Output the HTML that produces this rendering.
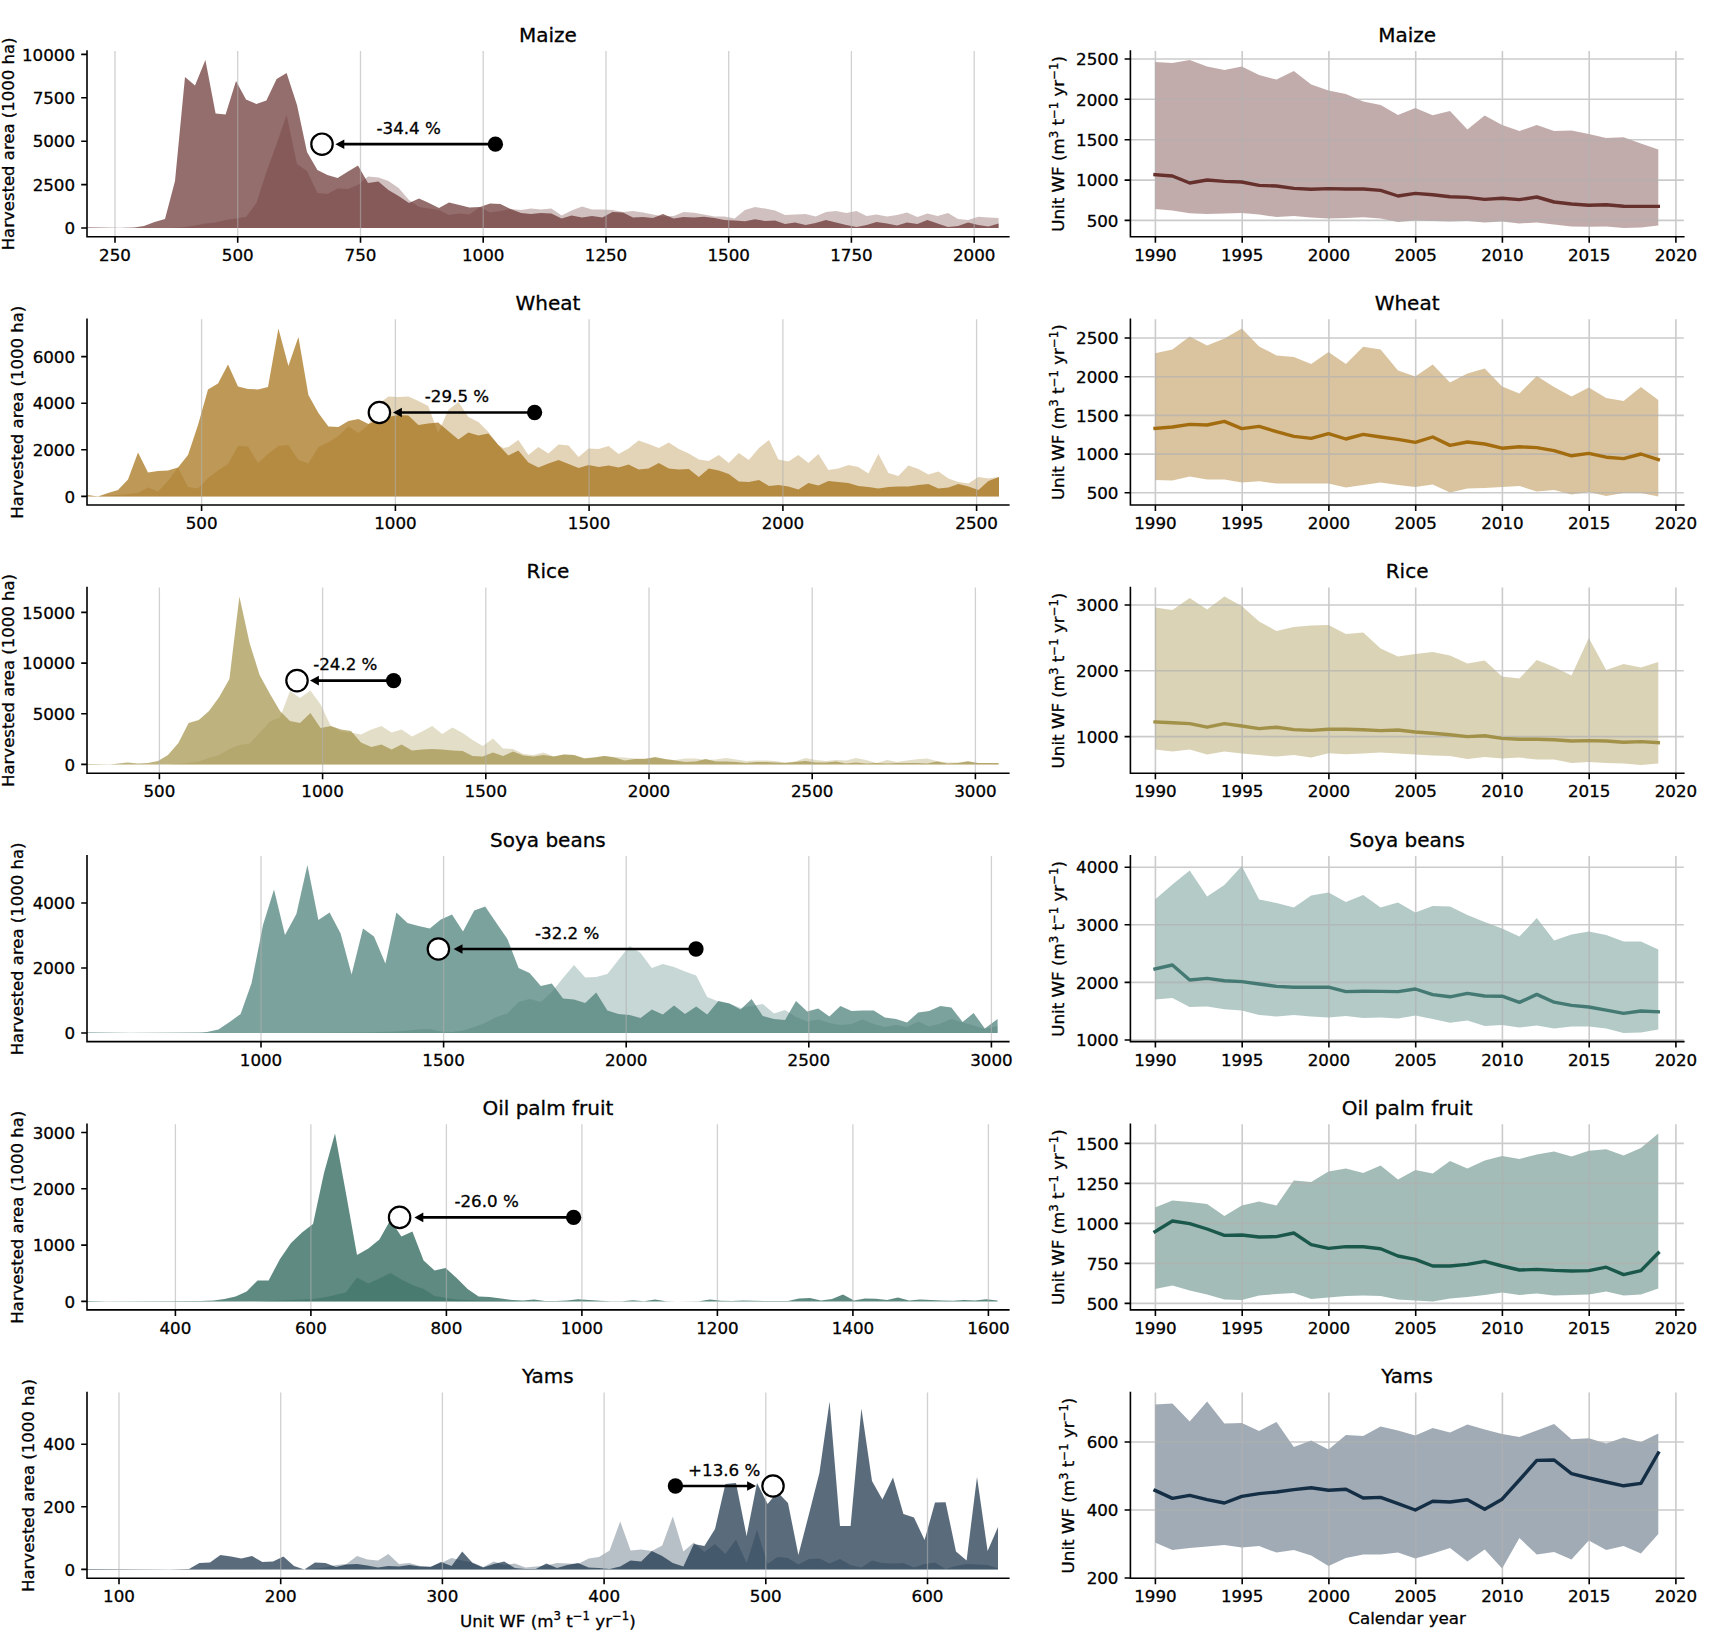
<!DOCTYPE html>
<html lang="en"><head><meta charset="utf-8"><title>Unit water footprint of crops</title>
<style>html,body{margin:0;padding:0;background:#fff}svg{display:block}text{stroke:#000;stroke-width:.3px}</style>
</head><body>
<svg width="1725" height="1645" viewBox="0 0 1725 1645" font-family='"DejaVu Sans", "Liberation Sans", sans-serif' font-size="16.7" fill="#000">
<rect width="1725" height="1645" fill="#fff"/>
<g id="row-maize">
<path d="M87 228V227.6L120 228L134 227.4L144 226L154.6 222L165 219L175 181L185 77L195 85.4L205.4 60L215.6 113.4L225.6 114.6L236 81L246 99.4L256.4 104L266.4 100.6L276.6 79L286.6 73L297 105L307 152L317.4 170L327.4 175L337.6 178L348 171.6L358 165.4L368 183L378.4 181.6L388.4 190L398.6 196L409 203L419 198.4L429 203L439 208L449 202.4L459.4 205L469.4 207.6L480 207L490 203.6L500.4 204L510.6 209L521 213L531 214L541 213L551.4 213.6L561.6 218.6L571.6 215.6L582 217.4L592 216L602.4 217.6L612.4 212L623 212.6L633 217.4L643 217L653 218L663 214L673.6 218.6L683.6 217L694 217.6L704 216.8L714.4 218L724.4 220L734.6 220.6L745 221.2L755 219.2L765 221L775 220.6L785 224L795 222.6L805.6 225L815.6 223L826 220L836 222.4L846.4 225L856.4 227L866.6 225L876.6 222L887 223.6L897 225.6L907 222.6L917.4 224L927.4 220L937.6 223.6L948 227L958 226L968 222.4L978.4 225L988.4 226.4L998.6 223.6L998.6 228Z" fill="#66302d" fill-opacity="0.7"/>
<path d="M87 228V227.6L170 228L185 227L195 225.6L205.4 223.6L215.6 222.4L225.6 220L236 218.4L246 217L256.4 203L266.4 172L276.6 144L286.6 115L297 164L307 171L317.4 193L327.4 194L337.6 188.4L348 189L358 185L368 176.6L378.4 177.6L388.4 181L398.6 188L409 200L419 207L429 208.6L439 210L449 215L459.4 213.6L469.4 214.4L480 207L490 212.4L500.4 211L510.6 209L521 210L531 208.4L541 209.6L551.4 208.4L561.6 215.6L571.6 210.6L582 206.4L592 209.6L602.4 209.4L612.4 210L623 212L633 211L643 212.4L653 214.4L663 216.4L673.6 216L683.6 212L694 212.8L704 214.4L714.4 216.4L724.4 216.6L734.6 218.6L745 210L755 207L765 208.6L775 210.6L785 215L795 214.4L805.6 214L815.6 216.4L826 212L836 211L846.4 213L856.4 211L866.6 216L876.6 214.6L887 216.6L897 215L907 212.6L917.4 217L927.4 213.6L937.6 216L948 213L958 219L968 220L978.4 216.8L988.4 217.6L998.6 218L998.6 228Z" fill="#66302d" fill-opacity="0.3"/>
<path d="M115 51V236.9M237.7 51V236.9M360.5 51V236.9M483.2 51V236.9M606 51V236.9M728.7 51V236.9M851.4 51V236.9M974.2 51V236.9" stroke="#b0b0b0" stroke-opacity="0.58" stroke-width="1.3" fill="none"/>
<path d="M87 51V236.7H1008.8" stroke="#000" stroke-width="1.6" fill="none" stroke-linecap="square"/>
<path d="M115 236.9v5.8M237.7 236.9v5.8M360.5 236.9v5.8M483.2 236.9v5.8M606 236.9v5.8M728.7 236.9v5.8M851.4 236.9v5.8M974.2 236.9v5.8M87 228h-5.8M87 184.6h-5.8M87 141.2h-5.8M87 97.8h-5.8M87 54.4h-5.8" stroke="#000" stroke-width="1.6" fill="none"/>
<text x="115" y="260.8" text-anchor="middle">250</text>
<text x="237.7" y="260.8" text-anchor="middle">500</text>
<text x="360.5" y="260.8" text-anchor="middle">750</text>
<text x="483.2" y="260.8" text-anchor="middle">1000</text>
<text x="606" y="260.8" text-anchor="middle">1250</text>
<text x="728.7" y="260.8" text-anchor="middle">1500</text>
<text x="851.4" y="260.8" text-anchor="middle">1750</text>
<text x="974.2" y="260.8" text-anchor="middle">2000</text>
<text x="75.1" y="234.2" text-anchor="end">0</text>
<text x="75.1" y="190.8" text-anchor="end">2500</text>
<text x="75.1" y="147.4" text-anchor="end">5000</text>
<text x="75.1" y="104" text-anchor="end">7500</text>
<text x="75.1" y="60.6" text-anchor="end">10000</text>
<text x="547.9" y="41.6" text-anchor="middle" font-size="20">Maize</text>
<text transform="translate(13.5 143.9) rotate(-90)" text-anchor="middle" font-size="16.5">Harvested area (1000 ha)</text>
<path d="M495.4 144.2H342.4" stroke="#000" stroke-width="2.7" fill="none"/>
<path d="M335.4 144.2l8.9 -4.8v9.6z" fill="#000"/>
<circle cx="495.4" cy="144.2" r="7.65" fill="#000"/>
<circle cx="322" cy="144.2" r="10.7" fill="#fff" stroke="#000" stroke-width="2.2"/>
<text x="408.7" y="134" text-anchor="middle">-34.4 %</text>
<path d="M1155 62L1172.4 63L1189.7 60L1207.1 66.6L1224.4 70L1241.8 66.6L1259.1 75L1276.5 79.6L1293.8 71L1311.2 84.4L1328.5 90.6L1345.9 94L1363.2 101.6L1380.6 105L1398 115L1415.3 108L1432.7 115.2L1450 111L1467.4 129.6L1484.7 115.6L1502.1 125L1519.4 131L1536.8 125L1554.1 131L1571.5 130.4L1588.8 134L1606.2 138L1623.6 137.2L1640.9 143.6L1658.3 149.4L1658.3 225.6L1640.9 227.6L1623.6 228L1606.2 226.4L1588.8 226.8L1571.5 226.4L1554.1 224.4L1536.8 222.4L1519.4 223.4L1502.1 221.4L1484.7 222.6L1467.4 221L1450 221.6L1432.7 221L1415.3 220.4L1398 222L1380.6 218.6L1363.2 217.2L1345.9 218L1328.5 218.6L1311.2 217.6L1293.8 216L1276.5 217L1259.1 214.6L1241.8 213L1224.4 213.6L1207.1 214L1189.7 213.2L1172.4 210.4L1155 209Z" fill="#66302d" fill-opacity="0.4"/>
<path d="M1155.4 51V236.9M1242.2 51V236.9M1328.9 51V236.9M1415.7 51V236.9M1502.4 51V236.9M1589.2 51V236.9M1675.9 51V236.9M1130.4 220.4H1683.8M1130.4 180.1H1683.8M1130.4 139.7H1683.8M1130.4 99.3H1683.8M1130.4 59H1683.8" stroke="#b0b0b0" stroke-opacity="0.66" stroke-width="1.6" fill="none"/>
<path d="M1155 174.6L1172.4 176L1189.7 183L1207.1 180L1224.4 181.4L1241.8 182L1259.1 185.4L1276.5 186L1293.8 188.4L1311.2 189.2L1328.5 188.6L1345.9 189L1363.2 189L1380.6 190.4L1398 196L1415.3 193.4L1432.7 194.8L1450 196.8L1467.4 197.4L1484.7 199.4L1502.1 198.2L1519.4 199.6L1536.8 197L1554.1 202L1571.5 204L1588.8 205.2L1606.2 204.8L1623.6 206.2L1640.9 206.4L1658.3 206.4" stroke="#66302d" stroke-width="3.4" fill="none" stroke-linejoin="round" stroke-linecap="square"/>
<path d="M1130.4 51V236.7H1683.8" stroke="#000" stroke-width="1.6" fill="none" stroke-linecap="square"/>
<path d="M1155.4 236.9v5.8M1242.2 236.9v5.8M1328.9 236.9v5.8M1415.7 236.9v5.8M1502.4 236.9v5.8M1589.2 236.9v5.8M1675.9 236.9v5.8M1130.4 220.4h-5.8M1130.4 180.1h-5.8M1130.4 139.7h-5.8M1130.4 99.3h-5.8M1130.4 59h-5.8" stroke="#000" stroke-width="1.6" fill="none"/>
<text x="1155.4" y="260.8" text-anchor="middle">1990</text>
<text x="1242.2" y="260.8" text-anchor="middle">1995</text>
<text x="1328.9" y="260.8" text-anchor="middle">2000</text>
<text x="1415.7" y="260.8" text-anchor="middle">2005</text>
<text x="1502.4" y="260.8" text-anchor="middle">2010</text>
<text x="1589.2" y="260.8" text-anchor="middle">2015</text>
<text x="1675.9" y="260.8" text-anchor="middle">2020</text>
<text x="1118.5" y="226.6" text-anchor="end">500</text>
<text x="1118.5" y="186.2" text-anchor="end">1000</text>
<text x="1118.5" y="145.9" text-anchor="end">1500</text>
<text x="1118.5" y="105.5" text-anchor="end">2000</text>
<text x="1118.5" y="65.2" text-anchor="end">2500</text>
<text x="1407.1" y="41.6" text-anchor="middle" font-size="20">Maize</text>
<text transform="translate(1064 143.9) rotate(-90)" text-anchor="middle">Unit WF (m<tspan font-size="70%" dy="-6.1">3</tspan><tspan dy="6.1"> t</tspan><tspan font-size="70%" dy="-6.1">−1</tspan><tspan dy="6.1"> yr</tspan><tspan font-size="70%" dy="-6.1">−1</tspan><tspan dy="6.1">)</tspan></text>
</g>
<g id="row-wheat">
<path d="M87 496.4V496L87.6 495L98 496.4L108 493L118 490L128 479.4L138 452.6L148 472.6L158 471L168 470.4L178 467.6L188 455L198 425L208 389.4L218 383.6L228 364.4L238 386.6L248 389L258 389.4L268 387L278.4 328.4L288.4 366L298.4 337L308.4 395L318.4 413L328.4 426.6L338.4 427L348.4 421L358.4 419L368.4 424L378.4 420L388.4 417L398.4 415L408.4 415.6L418.4 425L428.2 423.4L438.2 422.4L448.2 431L458.4 439.6L468.4 432.6L478.4 435.6L488.4 433.6L498.4 445L508.4 455.6L518.4 450.4L528.4 462.6L538.4 467.6L548.4 463.6L558.6 460L568.6 464L578.6 468L588.6 465L598.6 467L608.6 465.6L618.6 467.6L628.6 464.6L638.6 469.4L648.6 468.4L658.8 463L668.8 468.6L678.8 469.4L688.8 469L698.8 477L708.8 468.4L718.8 470.6L728.8 474L738.8 481.4L748.8 482L759 480L769 486L778.4 485L788.4 486.4L798.4 489.4L808.4 483L818.4 485.6L828.4 481L838.4 482L848.4 483L858.4 486L868.4 487L878.4 488.4L888.4 487L898.4 486.4L908.4 486.4L918.4 485L928.4 484L938.4 488.6L948.4 487.6L958.4 484L968.4 486.4L978.4 490L988.4 481L999 477L999 496.4Z" fill="#a36c0f" fill-opacity="0.7"/>
<path d="M87 496.4V496L87.6 496.4L118 495L138 493L148 487.6L158 491.6L168 481L178 467.6L188 487L198 488.4L208 478L218 470.4L228 464L238 446L248 446.6L258 463L268 454L278.4 446L288.4 445L298.4 460L308.4 463.4L318.4 447L328.4 442.4L338.4 436L348.4 426.4L358.4 433L368.4 425L378.4 404L388.4 396.6L398.4 397L408.4 396.4L418.4 401L428.2 406L438.2 433L448.2 410L458.4 402L468.4 417L478.4 422L488.4 432L498.4 445L503.4 448L508.4 447L518.4 440L528.4 455L538.4 447L548.4 453.6L558.6 444.4L568.6 445.6L578.6 457L588.6 448.4L598.6 449L608.6 446L618.6 454L628.6 448.4L638.6 440.4L648.6 444L658.8 448L668.8 442.6L678.8 449L688.8 453.6L698.8 459.4L708.8 461L718.8 455L728.8 463L738.8 453L748.8 460L759 448L769 440L778.4 459.4L788.4 461.4L798.4 455L808.4 463L818.4 454L828.4 470L838.4 468.4L848.4 465L858.4 467L868.4 473.6L878.4 454L888.4 473L898.4 476L908.4 465.6L918.4 469L928.4 474.4L938.4 471.4L948.4 478.6L958.4 482L968.4 483.4L978.4 477L988.4 478.6L999 477L999 496.4Z" fill="#a36c0f" fill-opacity="0.3"/>
<path d="M201.6 319.3V505.2M395.4 319.3V505.2M589.1 319.3V505.2M782.9 319.3V505.2M976.6 319.3V505.2" stroke="#b0b0b0" stroke-opacity="0.58" stroke-width="1.3" fill="none"/>
<path d="M87 319.3V505H1008.8" stroke="#000" stroke-width="1.6" fill="none" stroke-linecap="square"/>
<path d="M201.6 505.2v5.8M395.4 505.2v5.8M589.1 505.2v5.8M782.9 505.2v5.8M976.6 505.2v5.8M87 496.4h-5.8M87 449.8h-5.8M87 403.2h-5.8M87 356.6h-5.8" stroke="#000" stroke-width="1.6" fill="none"/>
<text x="201.6" y="529.1" text-anchor="middle">500</text>
<text x="395.4" y="529.1" text-anchor="middle">1000</text>
<text x="589.1" y="529.1" text-anchor="middle">1500</text>
<text x="782.9" y="529.1" text-anchor="middle">2000</text>
<text x="976.6" y="529.1" text-anchor="middle">2500</text>
<text x="75.1" y="502.6" text-anchor="end">0</text>
<text x="75.1" y="456" text-anchor="end">2000</text>
<text x="75.1" y="409.4" text-anchor="end">4000</text>
<text x="75.1" y="362.8" text-anchor="end">6000</text>
<text x="547.9" y="309.9" text-anchor="middle" font-size="20">Wheat</text>
<text transform="translate(23 412.2) rotate(-90)" text-anchor="middle" font-size="16.5">Harvested area (1000 ha)</text>
<path d="M534.6 412.5H400" stroke="#000" stroke-width="2.7" fill="none"/>
<path d="M393 412.5l8.9 -4.8v9.6z" fill="#000"/>
<circle cx="534.6" cy="412.5" r="7.65" fill="#000"/>
<circle cx="379.4" cy="412.5" r="10.7" fill="#fff" stroke="#000" stroke-width="2.2"/>
<text x="457" y="402.3" text-anchor="middle">-29.5 %</text>
<path d="M1155 353.2L1172.4 349.6L1189.7 336.6L1207.1 345.6L1224.4 338.4L1241.8 328.4L1259.1 346.4L1276.5 355.4L1293.8 357L1311.2 364L1328.5 352L1345.9 364L1363.2 346.8L1380.6 349.6L1398 370.6L1415.3 376.6L1432.7 364.4L1450 382.4L1467.4 373.4L1484.7 368.6L1502.1 386.4L1519.4 393.4L1536.8 376L1554.1 387L1571.5 396.4L1588.8 387.6L1606.2 398L1623.6 401L1640.9 387L1658.3 400L1658.3 496.6L1640.9 493L1623.6 493L1606.2 496L1588.8 492L1571.5 494.4L1554.1 490L1536.8 491.4L1519.4 486L1502.1 487L1484.7 488L1467.4 488.4L1450 492.4L1432.7 484.4L1415.3 487L1398 485L1380.6 482.4L1363.2 485L1345.9 487.6L1328.5 483.4L1311.2 483.4L1293.8 483.6L1276.5 483.6L1259.1 481.2L1241.8 482.6L1224.4 479.6L1207.1 479.6L1189.7 476.6L1172.4 480.6L1155 480Z" fill="#a36c0f" fill-opacity="0.4"/>
<path d="M1155.4 319.3V505.2M1242.2 319.3V505.2M1328.9 319.3V505.2M1415.7 319.3V505.2M1502.4 319.3V505.2M1589.2 319.3V505.2M1675.9 319.3V505.2M1130.4 492.8H1683.8M1130.4 454.1H1683.8M1130.4 415.4H1683.8M1130.4 376.7H1683.8M1130.4 338H1683.8" stroke="#b0b0b0" stroke-opacity="0.66" stroke-width="1.6" fill="none"/>
<path d="M1155 428.4L1172.4 427L1189.7 424.4L1207.1 425L1224.4 421.4L1241.8 428.6L1259.1 426.4L1276.5 431.6L1293.8 436.4L1311.2 438.4L1328.5 433.6L1345.9 439L1363.2 434.4L1380.6 437L1398 439.4L1415.3 442.4L1432.7 437L1450 445.4L1467.4 442L1484.7 444L1502.1 448.2L1519.4 446.8L1536.8 447.6L1554.1 450.6L1571.5 455.8L1588.8 453.4L1606.2 457.2L1623.6 458.6L1640.9 454L1658.3 459.6" stroke="#a36c0f" stroke-width="3.4" fill="none" stroke-linejoin="round" stroke-linecap="square"/>
<path d="M1130.4 319.3V505H1683.8" stroke="#000" stroke-width="1.6" fill="none" stroke-linecap="square"/>
<path d="M1155.4 505.2v5.8M1242.2 505.2v5.8M1328.9 505.2v5.8M1415.7 505.2v5.8M1502.4 505.2v5.8M1589.2 505.2v5.8M1675.9 505.2v5.8M1130.4 492.8h-5.8M1130.4 454.1h-5.8M1130.4 415.4h-5.8M1130.4 376.7h-5.8M1130.4 338h-5.8" stroke="#000" stroke-width="1.6" fill="none"/>
<text x="1155.4" y="529.1" text-anchor="middle">1990</text>
<text x="1242.2" y="529.1" text-anchor="middle">1995</text>
<text x="1328.9" y="529.1" text-anchor="middle">2000</text>
<text x="1415.7" y="529.1" text-anchor="middle">2005</text>
<text x="1502.4" y="529.1" text-anchor="middle">2010</text>
<text x="1589.2" y="529.1" text-anchor="middle">2015</text>
<text x="1675.9" y="529.1" text-anchor="middle">2020</text>
<text x="1118.5" y="499" text-anchor="end">500</text>
<text x="1118.5" y="460.3" text-anchor="end">1000</text>
<text x="1118.5" y="421.6" text-anchor="end">1500</text>
<text x="1118.5" y="382.9" text-anchor="end">2000</text>
<text x="1118.5" y="344.2" text-anchor="end">2500</text>
<text x="1407.1" y="309.9" text-anchor="middle" font-size="20">Wheat</text>
<text transform="translate(1064 412.2) rotate(-90)" text-anchor="middle">Unit WF (m<tspan font-size="70%" dy="-6.1">3</tspan><tspan dy="6.1"> t</tspan><tspan font-size="70%" dy="-6.1">−1</tspan><tspan dy="6.1"> yr</tspan><tspan font-size="70%" dy="-6.1">−1</tspan><tspan dy="6.1">)</tspan></text>
</g>
<g id="row-rice">
<path d="M87 764.4V764L110 764.4L127.6 762.4L138 763.6L148 763L158 761L168 755L178.4 743L188.6 723L198.8 720L209 711L219.2 697L229.4 679L239.4 596.4L249.6 643L259.6 675L270 694L280 711L290 721L300 723L310.4 713L320.6 728L330.8 726L341 729.6L351 731L361 742.4L371.4 747L381.4 744.6L391.6 749.4L401.6 744.4L412 750.6L422 749.6L432.2 749L442.2 749.6L452.4 750.6L462.6 751L472.6 756L482.8 756.4L493 752.4L503 756L513.2 751.6L523.4 755.6L533.4 756.4L543.6 755L553.8 756.4L563.8 754.6L574 755L584.2 758.4L594.2 757.6L604.4 756L614.6 757.6L624.6 760.4L634.8 759L645 759L655 757L665.2 759L675.4 760.4L685.4 762L695.6 761.6L705.8 759L715.8 761.6L726 761.4L736.2 762L746.2 763L756.4 762L766.6 762L775 762.4L785 763L795 762L805.6 761L815.6 762.4L826 762.4L836 761.6L846 763.6L856 762.4L866 763.6L877 763L887 763.6L897 763L907 763L917 763L927 763.6L937 761.6L947.4 763.6L958 763L968 761.6L978 763L998.6 763L998.6 764.4Z" fill="#a29148" fill-opacity="0.7"/>
<path d="M87 764.4V764L168 764.4L188.6 763L198.8 761.6L209 758L219.2 755L229.4 749L239.4 745L249.6 743.6L259.6 733L270 721.4L280 717.6L290 691L300 698L310.4 690.6L320.6 704.4L330.8 726L341 731.6L351 732.6L361 734.4L371.4 729.6L381.4 726L391.6 732.4L401.6 729.6L412 736.4L422 731.6L432.2 726L442.2 734L452.4 727.4L462.6 733L472.6 740L482.8 746L493 738.6L503 748.6L513.2 749L523.4 754L533.4 755L543.6 752.6L553.8 756.4L563.8 754.6L574 755L584.2 758L594.2 757.6L604.4 756L614.6 757L624.6 757.6L634.8 758.4L645 758.4L655 758L665.2 759.6L675.4 760L685.4 758.4L695.6 758.4L705.8 760L715.8 759.6L726 758L736.2 759.6L746.2 761L756.4 760.6L766.6 760.6L775 761L785 762.4L795 761.6L805.6 758L815.6 760L826 761L836 760L846 760.6L856 758L866 760L877 763L887 760L897 762L907 760.6L917 759.2L927 758.6L937 761L947.4 762.4L958 762.4L968 761L978 763L998.6 763L998.6 764.4Z" fill="#a29148" fill-opacity="0.3"/>
<path d="M159.4 587.6V773.5M322.6 587.6V773.5M485.8 587.6V773.5M649 587.6V773.5M812.2 587.6V773.5M975.4 587.6V773.5" stroke="#b0b0b0" stroke-opacity="0.58" stroke-width="1.3" fill="none"/>
<path d="M87 587.6V773.3H1008.8" stroke="#000" stroke-width="1.6" fill="none" stroke-linecap="square"/>
<path d="M159.4 773.5v5.8M322.6 773.5v5.8M485.8 773.5v5.8M649 773.5v5.8M812.2 773.5v5.8M975.4 773.5v5.8M87 764.4h-5.8M87 713.7h-5.8M87 663.1h-5.8M87 612.4h-5.8" stroke="#000" stroke-width="1.6" fill="none"/>
<text x="159.4" y="797.4" text-anchor="middle">500</text>
<text x="322.6" y="797.4" text-anchor="middle">1000</text>
<text x="485.8" y="797.4" text-anchor="middle">1500</text>
<text x="649" y="797.4" text-anchor="middle">2000</text>
<text x="812.2" y="797.4" text-anchor="middle">2500</text>
<text x="975.4" y="797.4" text-anchor="middle">3000</text>
<text x="75.1" y="770.6" text-anchor="end">0</text>
<text x="75.1" y="719.9" text-anchor="end">5000</text>
<text x="75.1" y="669.3" text-anchor="end">10000</text>
<text x="75.1" y="618.6" text-anchor="end">15000</text>
<text x="547.9" y="578.2" text-anchor="middle" font-size="20">Rice</text>
<text transform="translate(13.5 680.5) rotate(-90)" text-anchor="middle" font-size="16.5">Harvested area (1000 ha)</text>
<path d="M393.6 680.6H317" stroke="#000" stroke-width="2.7" fill="none"/>
<path d="M310 680.6l8.9 -4.8v9.6z" fill="#000"/>
<circle cx="393.6" cy="680.6" r="7.65" fill="#000"/>
<circle cx="297" cy="680.6" r="10.7" fill="#fff" stroke="#000" stroke-width="2.2"/>
<text x="345.3" y="670.4" text-anchor="middle">-24.2 %</text>
<path d="M1155 607.6L1172.4 610L1189.7 598L1207.1 609.6L1224.4 596.4L1241.8 606L1259.1 621.6L1276.5 631L1293.8 627L1311.2 625.4L1328.5 625L1345.9 634L1363.2 632.4L1380.6 648.4L1398 656.4L1415.3 654L1432.7 652L1450 655.4L1467.4 663.4L1484.7 660.6L1502.1 676.4L1519.4 678.4L1536.8 660L1554.1 667L1571.5 675.6L1588.8 638L1606.2 670L1623.6 664L1640.9 667.4L1658.3 662L1658.3 763.6L1640.9 765L1623.6 763.6L1606.2 763L1588.8 762L1571.5 763L1554.1 759.6L1536.8 759.6L1519.4 757.6L1502.1 758.4L1484.7 757L1467.4 759L1450 756L1432.7 755.6L1415.3 754.6L1398 753.4L1380.6 752.6L1363.2 753.6L1345.9 754.2L1328.5 753.2L1311.2 757.6L1293.8 755L1276.5 756.6L1259.1 755L1241.8 753.6L1224.4 751.4L1207.1 754.4L1189.7 749.4L1172.4 751.6L1155 749.6Z" fill="#a29148" fill-opacity="0.4"/>
<path d="M1155.4 587.6V773.5M1242.2 587.6V773.5M1328.9 587.6V773.5M1415.7 587.6V773.5M1502.4 587.6V773.5M1589.2 587.6V773.5M1675.9 587.6V773.5M1130.4 736.6H1683.8M1130.4 670.8H1683.8M1130.4 605H1683.8" stroke="#b0b0b0" stroke-opacity="0.66" stroke-width="1.6" fill="none"/>
<path d="M1155 722L1172.4 722.8L1189.7 723.6L1207.1 727.2L1224.4 723.6L1241.8 726L1259.1 728.6L1276.5 727.2L1293.8 729.6L1311.2 730.4L1328.5 729.2L1345.9 729.2L1363.2 729.8L1380.6 730.6L1398 730L1415.3 732L1432.7 733.2L1450 734.8L1467.4 736.6L1484.7 735.8L1502.1 738.4L1519.4 739.2L1536.8 739.2L1554.1 739.8L1571.5 741L1588.8 740.6L1606.2 741L1623.6 742.2L1640.9 741.6L1658.3 742.6" stroke="#a29148" stroke-width="3.4" fill="none" stroke-linejoin="round" stroke-linecap="square"/>
<path d="M1130.4 587.6V773.3H1683.8" stroke="#000" stroke-width="1.6" fill="none" stroke-linecap="square"/>
<path d="M1155.4 773.5v5.8M1242.2 773.5v5.8M1328.9 773.5v5.8M1415.7 773.5v5.8M1502.4 773.5v5.8M1589.2 773.5v5.8M1675.9 773.5v5.8M1130.4 736.6h-5.8M1130.4 670.8h-5.8M1130.4 605h-5.8" stroke="#000" stroke-width="1.6" fill="none"/>
<text x="1155.4" y="797.4" text-anchor="middle">1990</text>
<text x="1242.2" y="797.4" text-anchor="middle">1995</text>
<text x="1328.9" y="797.4" text-anchor="middle">2000</text>
<text x="1415.7" y="797.4" text-anchor="middle">2005</text>
<text x="1502.4" y="797.4" text-anchor="middle">2010</text>
<text x="1589.2" y="797.4" text-anchor="middle">2015</text>
<text x="1675.9" y="797.4" text-anchor="middle">2020</text>
<text x="1118.5" y="742.8" text-anchor="end">1000</text>
<text x="1118.5" y="677" text-anchor="end">2000</text>
<text x="1118.5" y="611.2" text-anchor="end">3000</text>
<text x="1407.1" y="578.2" text-anchor="middle" font-size="20">Rice</text>
<text transform="translate(1064 680.5) rotate(-90)" text-anchor="middle">Unit WF (m<tspan font-size="70%" dy="-6.1">3</tspan><tspan dy="6.1"> t</tspan><tspan font-size="70%" dy="-6.1">−1</tspan><tspan dy="6.1"> yr</tspan><tspan font-size="70%" dy="-6.1">−1</tspan><tspan dy="6.1">)</tspan></text>
</g>
<g id="row-soya">
<path d="M87 1033V1032.6L130 1033L200 1032.4L207 1032L218.4 1029.6L229.6 1022L240.6 1014L251.6 983L263 925L274 889.6L285 935L296.4 914L307.4 865L318.4 920L329.6 912.6L340.6 933.6L351.6 974.6L363 928.6L374 936.4L385.4 963.6L396.4 912.6L407.4 923L418.6 926L429.8 928.4L440.8 919.6L452 914.6L463 931.4L474.2 910.4L485.2 906.4L496.4 923L507.4 939L518.6 968L529.6 973L540.8 986L551.8 983.6L563 998.4L574 999.6L585.2 1003L596.2 992.6L607.4 1010.6L618.4 1014L629.6 1015L640.6 1018L651.8 1009.6L662.8 1014.4L674 1005.6L685 1014L696.2 1006.4L707.2 1014.6L718.4 1001L729.4 1003.6L740.6 1009.6L751.6 999L762.8 1016L774 1019L785 1020L796 1001L807.2 1011.6L818.2 1008.6L829.4 1016.6L840.4 1006L851.6 1011L862.6 1010.6L873.8 1010.6L884.8 1017.4L896 1019L907 1022.6L918.2 1012.4L929.2 1011L940.4 1006L951.4 1007.6L962.6 1022L973.6 1013L984.8 1028.4L997.6 1019L997.6 1033Z" fill="#447a73" fill-opacity="0.7"/>
<path d="M87 1033V1032.6L300 1033L360 1032.4L396.4 1031.6L418.6 1029.6L429.8 1029L440.8 1031.6L452 1032L463 1030.4L474.2 1027L485.2 1023L496.4 1017L507.4 1013.6L518.6 1002L529.6 999L540.8 1002L551.8 992L563 978L574 965L585.2 977.4L596.2 977L607.4 974L618.4 960L629.6 946L640.6 953L651.8 968L662.8 964L674 967L685 971.6L696.2 975.6L707.2 997L718.4 1001.6L729.4 1003.6L740.6 1008L751.6 1006L762.8 1004L774 1013.6L785 1010L796 1017L807.2 1021.6L818.2 1019.6L829.4 1023L840.4 1025L851.6 1024L862.6 1019.6L873.8 1024L884.8 1027L896 1025L907 1027L918.2 1021.6L929.2 1026.4L940.4 1023.6L951.4 1019L962.6 1022.4L973.6 1025.6L984.8 1029L997.6 1026L997.6 1033Z" fill="#447a73" fill-opacity="0.3"/>
<path d="M261 855.9V1041.8M443.6 855.9V1041.8M626.2 855.9V1041.8M808.8 855.9V1041.8M991.4 855.9V1041.8" stroke="#b0b0b0" stroke-opacity="0.58" stroke-width="1.3" fill="none"/>
<path d="M87 855.9V1041.6H1008.8" stroke="#000" stroke-width="1.6" fill="none" stroke-linecap="square"/>
<path d="M261 1041.8v5.8M443.6 1041.8v5.8M626.2 1041.8v5.8M808.8 1041.8v5.8M991.4 1041.8v5.8M87 1033h-5.8M87 968h-5.8M87 903h-5.8" stroke="#000" stroke-width="1.6" fill="none"/>
<text x="261" y="1065.7" text-anchor="middle">1000</text>
<text x="443.6" y="1065.7" text-anchor="middle">1500</text>
<text x="626.2" y="1065.7" text-anchor="middle">2000</text>
<text x="808.8" y="1065.7" text-anchor="middle">2500</text>
<text x="991.4" y="1065.7" text-anchor="middle">3000</text>
<text x="75.1" y="1039.2" text-anchor="end">0</text>
<text x="75.1" y="974.2" text-anchor="end">2000</text>
<text x="75.1" y="909.2" text-anchor="end">4000</text>
<text x="547.9" y="846.5" text-anchor="middle" font-size="20">Soya beans</text>
<text transform="translate(23 948.9) rotate(-90)" text-anchor="middle" font-size="16.5">Harvested area (1000 ha)</text>
<path d="M696 949H460.6" stroke="#000" stroke-width="2.7" fill="none"/>
<path d="M453.6 949l8.9 -4.8v9.6z" fill="#000"/>
<circle cx="696" cy="949" r="7.65" fill="#000"/>
<circle cx="438.4" cy="949" r="10.7" fill="#fff" stroke="#000" stroke-width="2.2"/>
<text x="567.2" y="938.8" text-anchor="middle">-32.2 %</text>
<path d="M1155 899.6L1172.4 884.4L1189.7 870.6L1207.1 896.6L1224.4 885L1241.8 866L1259.1 899.6L1276.5 903L1293.8 907.4L1311.2 895.6L1328.5 892.6L1345.9 902L1363.2 895L1380.6 907.4L1398 902.4L1415.3 912.6L1432.7 906L1450 906.4L1467.4 915L1484.7 922L1502.1 928.6L1519.4 936.6L1536.8 918L1554.1 940.4L1571.5 934.6L1588.8 931.4L1606.2 935L1623.6 941.4L1640.9 941.4L1658.3 949.4L1658.3 1029.4L1640.9 1032.4L1623.6 1033L1606.2 1028.4L1588.8 1026.4L1571.5 1026.6L1554.1 1028.6L1536.8 1025.6L1519.4 1027.4L1502.1 1025L1484.7 1026L1467.4 1020.6L1450 1022.8L1432.7 1019L1415.3 1015.6L1398 1018.6L1380.6 1017.6L1363.2 1018L1345.9 1016L1328.5 1017.6L1311.2 1016.6L1293.8 1015L1276.5 1016.4L1259.1 1015L1241.8 1010.4L1224.4 1009.2L1207.1 1006.6L1189.7 1007L1172.4 998L1155 999.6Z" fill="#447a73" fill-opacity="0.4"/>
<path d="M1155.4 855.9V1041.8M1242.2 855.9V1041.8M1328.9 855.9V1041.8M1415.7 855.9V1041.8M1502.4 855.9V1041.8M1589.2 855.9V1041.8M1675.9 855.9V1041.8M1130.4 1040H1683.8M1130.4 982.4H1683.8M1130.4 924.8H1683.8M1130.4 867.2H1683.8" stroke="#b0b0b0" stroke-opacity="0.66" stroke-width="1.6" fill="none"/>
<path d="M1155 969L1172.4 965L1189.7 980L1207.1 978.4L1224.4 980.8L1241.8 981.6L1259.1 984L1276.5 986.4L1293.8 987.2L1311.2 987.2L1328.5 987.2L1345.9 991.6L1363.2 991.2L1380.6 991.4L1398 991.6L1415.3 989L1432.7 994.6L1450 996.8L1467.4 993.4L1484.7 996L1502.1 996.2L1519.4 1002.4L1536.8 994.4L1554.1 1002.2L1571.5 1005.4L1588.8 1007L1606.2 1010.2L1623.6 1013.4L1640.9 1011L1658.3 1011.8" stroke="#447a73" stroke-width="3.4" fill="none" stroke-linejoin="round" stroke-linecap="square"/>
<path d="M1130.4 855.9V1041.6H1683.8" stroke="#000" stroke-width="1.6" fill="none" stroke-linecap="square"/>
<path d="M1155.4 1041.8v5.8M1242.2 1041.8v5.8M1328.9 1041.8v5.8M1415.7 1041.8v5.8M1502.4 1041.8v5.8M1589.2 1041.8v5.8M1675.9 1041.8v5.8M1130.4 1040h-5.8M1130.4 982.4h-5.8M1130.4 924.8h-5.8M1130.4 867.2h-5.8" stroke="#000" stroke-width="1.6" fill="none"/>
<text x="1155.4" y="1065.7" text-anchor="middle">1990</text>
<text x="1242.2" y="1065.7" text-anchor="middle">1995</text>
<text x="1328.9" y="1065.7" text-anchor="middle">2000</text>
<text x="1415.7" y="1065.7" text-anchor="middle">2005</text>
<text x="1502.4" y="1065.7" text-anchor="middle">2010</text>
<text x="1589.2" y="1065.7" text-anchor="middle">2015</text>
<text x="1675.9" y="1065.7" text-anchor="middle">2020</text>
<text x="1118.5" y="1046.2" text-anchor="end">1000</text>
<text x="1118.5" y="988.6" text-anchor="end">2000</text>
<text x="1118.5" y="931" text-anchor="end">3000</text>
<text x="1118.5" y="873.4" text-anchor="end">4000</text>
<text x="1407.1" y="846.5" text-anchor="middle" font-size="20">Soya beans</text>
<text transform="translate(1064 948.9) rotate(-90)" text-anchor="middle">Unit WF (m<tspan font-size="70%" dy="-6.1">3</tspan><tspan dy="6.1"> t</tspan><tspan font-size="70%" dy="-6.1">−1</tspan><tspan dy="6.1"> yr</tspan><tspan font-size="70%" dy="-6.1">−1</tspan><tspan dy="6.1">)</tspan></text>
</g>
<g id="row-oil">
<path d="M87 1301.4V1301L106 1301.4L200 1301L213.6 1300.4L224.4 1299L235.6 1296.4L246.6 1291.4L257.6 1280.4L268.6 1280.4L280 1259L291 1243L302 1232.6L313 1224L324 1173L335 1133.4L346 1193.4L357 1255L368.4 1248.4L379.4 1239.6L390.4 1220L401.4 1236.4L412.4 1231.4L423.6 1260.4L434.6 1270.4L445.6 1268L456.6 1278L467.6 1289L478.6 1296.6L489.6 1297L501 1298.4L512 1300L523 1300.6L534 1299.6L545 1301L556 1301L567 1300.4L578 1299.2L589 1300L600 1300.8L611 1301.2L622 1301.2L633 1300.2L644 1301.2L655 1299.6L666 1301.2L677 1301.4L699 1301.2L710 1299.4L721 1300.8L732 1301L743 1300.4L765 1301L788 1301L799 1298.4L810 1298L821 1300.4L832 1299L843 1294.4L854 1300.4L865 1298.6L876 1298.8L887 1300L898 1297.6L909 1300.6L920 1299.6L931 1300L942 1300.6L953 1300.8L964 1300L975 1300.4L986 1299.2L997.6 1300.4L997.6 1301.4Z" fill="#1a584c" fill-opacity="0.7"/>
<path d="M87 1301.4V1301L256 1301.4L280 1300.6L302 1299.6L313 1299L324 1297.4L335 1295L346 1292.6L357 1277.6L368.4 1283.6L379.4 1278.4L390.4 1273L401.4 1279.6L412.4 1285L423.6 1289L434.6 1296L445.6 1298L456.6 1299.6L478.6 1300.4L501 1301L525 1301.4L525 1301.4Z" fill="#1a584c" fill-opacity="0.3"/>
<path d="M175.4 1124.2V1310.1M310.9 1124.2V1310.1M446.4 1124.2V1310.1M581.9 1124.2V1310.1M717.4 1124.2V1310.1M852.9 1124.2V1310.1M988.4 1124.2V1310.1" stroke="#b0b0b0" stroke-opacity="0.58" stroke-width="1.3" fill="none"/>
<path d="M87 1124.2V1309.9H1008.8" stroke="#000" stroke-width="1.6" fill="none" stroke-linecap="square"/>
<path d="M175.4 1310.1v5.8M310.9 1310.1v5.8M446.4 1310.1v5.8M581.9 1310.1v5.8M717.4 1310.1v5.8M852.9 1310.1v5.8M988.4 1310.1v5.8M87 1301.4h-5.8M87 1245.1h-5.8M87 1188.8h-5.8M87 1132.5h-5.8" stroke="#000" stroke-width="1.6" fill="none"/>
<text x="175.4" y="1334" text-anchor="middle">400</text>
<text x="310.9" y="1334" text-anchor="middle">600</text>
<text x="446.4" y="1334" text-anchor="middle">800</text>
<text x="581.9" y="1334" text-anchor="middle">1000</text>
<text x="717.4" y="1334" text-anchor="middle">1200</text>
<text x="852.9" y="1334" text-anchor="middle">1400</text>
<text x="988.4" y="1334" text-anchor="middle">1600</text>
<text x="75.1" y="1307.6" text-anchor="end">0</text>
<text x="75.1" y="1251.3" text-anchor="end">1000</text>
<text x="75.1" y="1195" text-anchor="end">2000</text>
<text x="75.1" y="1138.7" text-anchor="end">3000</text>
<text x="547.9" y="1114.8" text-anchor="middle" font-size="20">Oil palm fruit</text>
<text transform="translate(23 1217.2) rotate(-90)" text-anchor="middle" font-size="16.5">Harvested area (1000 ha)</text>
<path d="M573.6 1217.4H421.4" stroke="#000" stroke-width="2.7" fill="none"/>
<path d="M414.4 1217.4l8.9 -4.8v9.6z" fill="#000"/>
<circle cx="573.6" cy="1217.4" r="7.65" fill="#000"/>
<circle cx="399.6" cy="1217.4" r="10.7" fill="#fff" stroke="#000" stroke-width="2.2"/>
<text x="486.6" y="1207.2" text-anchor="middle">-26.0 %</text>
<path d="M1155 1207.6L1172.4 1200.4L1189.7 1202L1207.1 1204L1224.4 1216L1241.8 1205.4L1259.1 1201.6L1276.5 1205.4L1293.8 1180.6L1311.2 1182L1328.5 1171.4L1345.9 1168.4L1363.2 1173L1380.6 1165.4L1398 1179.4L1415.3 1170L1432.7 1173.4L1450 1161L1467.4 1168.6L1484.7 1160.6L1502.1 1156L1519.4 1159L1536.8 1154.6L1554.1 1151.4L1571.5 1156.4L1588.8 1150.8L1606.2 1149.2L1623.6 1155.4L1640.9 1148L1658.3 1133.4L1658.3 1288.4L1640.9 1294.6L1623.6 1295.6L1606.2 1291.6L1588.8 1294.4L1571.5 1295L1554.1 1295.6L1536.8 1293.4L1519.4 1295L1502.1 1292.6L1484.7 1295L1467.4 1297L1450 1298.6L1432.7 1301.6L1415.3 1300.6L1398 1299.4L1380.6 1296L1363.2 1295.6L1345.9 1296L1328.5 1297.6L1311.2 1299L1293.8 1293L1276.5 1294L1259.1 1295.6L1241.8 1300L1224.4 1299.6L1207.1 1294.4L1189.7 1290.4L1172.4 1285.6L1155 1289Z" fill="#1a584c" fill-opacity="0.4"/>
<path d="M1155.4 1124.2V1310.1M1242.2 1124.2V1310.1M1328.9 1124.2V1310.1M1415.7 1124.2V1310.1M1502.4 1124.2V1310.1M1589.2 1124.2V1310.1M1675.9 1124.2V1310.1M1130.4 1303.4H1683.8M1130.4 1263.4H1683.8M1130.4 1223.4H1683.8M1130.4 1183.4H1683.8M1130.4 1143.4H1683.8" stroke="#b0b0b0" stroke-opacity="0.66" stroke-width="1.6" fill="none"/>
<path d="M1155 1231.6L1172.4 1221L1189.7 1223.6L1207.1 1229L1224.4 1235.4L1241.8 1235L1259.1 1237L1276.5 1236.6L1293.8 1233L1311.2 1244.6L1328.5 1248.4L1345.9 1246.6L1363.2 1246.8L1380.6 1248.8L1398 1256L1415.3 1259.4L1432.7 1266L1450 1266L1467.4 1264.4L1484.7 1261.4L1502.1 1266L1519.4 1270L1536.8 1269.4L1554.1 1270.4L1571.5 1271L1588.8 1270.6L1606.2 1267.2L1623.6 1274.6L1640.9 1270.6L1658.3 1253" stroke="#1a584c" stroke-width="3.4" fill="none" stroke-linejoin="round" stroke-linecap="square"/>
<path d="M1130.4 1124.2V1309.9H1683.8" stroke="#000" stroke-width="1.6" fill="none" stroke-linecap="square"/>
<path d="M1155.4 1310.1v5.8M1242.2 1310.1v5.8M1328.9 1310.1v5.8M1415.7 1310.1v5.8M1502.4 1310.1v5.8M1589.2 1310.1v5.8M1675.9 1310.1v5.8M1130.4 1303.4h-5.8M1130.4 1263.4h-5.8M1130.4 1223.4h-5.8M1130.4 1183.4h-5.8M1130.4 1143.4h-5.8" stroke="#000" stroke-width="1.6" fill="none"/>
<text x="1155.4" y="1334" text-anchor="middle">1990</text>
<text x="1242.2" y="1334" text-anchor="middle">1995</text>
<text x="1328.9" y="1334" text-anchor="middle">2000</text>
<text x="1415.7" y="1334" text-anchor="middle">2005</text>
<text x="1502.4" y="1334" text-anchor="middle">2010</text>
<text x="1589.2" y="1334" text-anchor="middle">2015</text>
<text x="1675.9" y="1334" text-anchor="middle">2020</text>
<text x="1118.5" y="1309.6" text-anchor="end">500</text>
<text x="1118.5" y="1269.6" text-anchor="end">750</text>
<text x="1118.5" y="1229.6" text-anchor="end">1000</text>
<text x="1118.5" y="1189.6" text-anchor="end">1250</text>
<text x="1118.5" y="1149.6" text-anchor="end">1500</text>
<text x="1407.1" y="1114.8" text-anchor="middle" font-size="20">Oil palm fruit</text>
<text transform="translate(1064 1217.2) rotate(-90)" text-anchor="middle">Unit WF (m<tspan font-size="70%" dy="-6.1">3</tspan><tspan dy="6.1"> t</tspan><tspan font-size="70%" dy="-6.1">−1</tspan><tspan dy="6.1"> yr</tspan><tspan font-size="70%" dy="-6.1">−1</tspan><tspan dy="6.1">)</tspan></text>
</g>
<g id="row-yams">
<path d="M87 1569.4V1569L170 1569.4L189 1569L199.4 1563L210 1562.6L220.4 1555L231 1556.4L241.4 1558.4L252 1556L262.4 1562L273 1561.4L283.4 1556.6L294 1566L304.4 1569.4L315 1562.4L325.4 1563L336 1567L346.4 1564.6L357 1564L367.4 1565.4L378 1567.6L388.4 1566L399 1566.4L409.4 1565L420 1566.6L430.6 1567L441 1562L451.6 1566L462.2 1551.4L472.6 1563L483.2 1567.6L493.8 1564L504.2 1561.4L514.8 1568L525.4 1569L535.8 1569L546.4 1563.6L557 1568L567.4 1565L578 1563L588.6 1567.6L599 1568L609.6 1569L620.2 1566.4L630.6 1560.4L641.2 1561.4L651.8 1551L662.2 1556L672.8 1563L683.4 1566.4L693.8 1544L704.4 1546L715 1529L725.4 1484L736 1483L746.6 1536L757 1483L767.6 1504L777.4 1492L788 1503L798.4 1555L809 1514L819.4 1473L829.6 1401.4L840 1526L850.6 1526L861.4 1408.4L872 1481L882.4 1499.4L893 1477.4L903.4 1514L914 1517.6L924.6 1540L935 1502.6L945.6 1502.2L956 1551.4L966.6 1560.4L977 1477L987.6 1551L998 1527L998 1569.4Z" fill="#142e45" fill-opacity="0.7"/>
<path d="M87 1569.4V1569L304.4 1569.4L325.4 1567.6L336 1565L346.4 1564L357 1556L367.4 1559.6L378 1560.4L388.4 1554L399 1564L409.4 1563L420 1566L430.6 1566.4L441 1563L451.6 1558L462.2 1560.4L472.6 1562.6L483.2 1567L493.8 1561.6L504.2 1565L514.8 1563.6L525.4 1567.6L535.8 1566.4L546.4 1565.6L557 1563L567.4 1563.6L578 1564L588.6 1558.4L599 1557L609.6 1550.4L620.2 1521.4L630.6 1550.4L641.2 1549.6L651.8 1551L662.2 1545.6L672.8 1516.4L683.4 1551.4L693.8 1542.6L704.4 1552L715 1544L725.4 1554L736 1539.6L746.6 1563L757 1530L767.6 1564L777.4 1557L788 1558L798.4 1564.4L809 1559L819.4 1558.4L829.6 1563.4L840 1559L850.6 1565L861.4 1567.6L872 1560.6L882.4 1563L893 1563.6L903.4 1563L914 1567.4L924.6 1564L935 1562.4L945.6 1569L956 1566L966.6 1564L977 1564.6L987.6 1565L998 1568.6L998 1569.4Z" fill="#142e45" fill-opacity="0.3"/>
<path d="M119 1392.5V1578.4M280.7 1392.5V1578.4M442.4 1392.5V1578.4M604.1 1392.5V1578.4M765.8 1392.5V1578.4M927.5 1392.5V1578.4" stroke="#b0b0b0" stroke-opacity="0.58" stroke-width="1.3" fill="none"/>
<path d="M87 1392.5V1578.2H1008.8" stroke="#000" stroke-width="1.6" fill="none" stroke-linecap="square"/>
<path d="M119 1578.4v5.8M280.7 1578.4v5.8M442.4 1578.4v5.8M604.1 1578.4v5.8M765.8 1578.4v5.8M927.5 1578.4v5.8M87 1569.4h-5.8M87 1506.8h-5.8M87 1444.2h-5.8" stroke="#000" stroke-width="1.6" fill="none"/>
<text x="119" y="1602.3" text-anchor="middle">100</text>
<text x="280.7" y="1602.3" text-anchor="middle">200</text>
<text x="442.4" y="1602.3" text-anchor="middle">300</text>
<text x="604.1" y="1602.3" text-anchor="middle">400</text>
<text x="765.8" y="1602.3" text-anchor="middle">500</text>
<text x="927.5" y="1602.3" text-anchor="middle">600</text>
<text x="75.1" y="1575.6" text-anchor="end">0</text>
<text x="75.1" y="1513" text-anchor="end">200</text>
<text x="75.1" y="1450.4" text-anchor="end">400</text>
<text x="547.9" y="1383.1" text-anchor="middle" font-size="20">Yams</text>
<text transform="translate(33.5 1485.5) rotate(-90)" text-anchor="middle" font-size="16.5">Harvested area (1000 ha)</text>
<path d="M675.4 1486H749" stroke="#000" stroke-width="2.7" fill="none"/>
<path d="M756 1486l-8.9 -4.8v9.6z" fill="#000"/>
<circle cx="675.4" cy="1486" r="7.65" fill="#000"/>
<circle cx="773" cy="1486" r="10.7" fill="#fff" stroke="#000" stroke-width="2.2"/>
<text x="724.2" y="1475.8" text-anchor="middle">+13.6 %</text>
<path d="M1155 1404.4L1172.4 1403.6L1189.7 1421.4L1207.1 1401.6L1224.4 1423.4L1241.8 1423L1259.1 1431L1276.5 1422L1293.8 1447L1311.2 1440.4L1328.5 1449.6L1345.9 1435L1363.2 1436L1380.6 1426.4L1398 1430.6L1415.3 1435.6L1432.7 1428L1450 1432.4L1467.4 1424.4L1484.7 1429.6L1502.1 1434L1519.4 1437L1536.8 1430.6L1554.1 1424L1571.5 1439.2L1588.8 1438.2L1606.2 1443.4L1623.6 1437.4L1640.9 1442L1658.3 1433.4L1658.3 1534L1640.9 1553.6L1623.6 1546L1606.2 1550L1588.8 1540.6L1571.5 1559.4L1554.1 1552L1536.8 1554.6L1519.4 1538L1502.1 1568.4L1484.7 1549.6L1467.4 1561.6L1450 1548L1432.7 1553.4L1415.3 1558.6L1398 1552.6L1380.6 1554.6L1363.2 1554.6L1345.9 1558L1328.5 1566L1311.2 1555.4L1293.8 1550L1276.5 1552.6L1259.1 1546L1241.8 1547.4L1224.4 1545L1207.1 1546.6L1189.7 1548L1172.4 1550L1155 1542.4Z" fill="#142e45" fill-opacity="0.4"/>
<path d="M1155.4 1392.5V1578.4M1242.2 1392.5V1578.4M1328.9 1392.5V1578.4M1415.7 1392.5V1578.4M1502.4 1392.5V1578.4M1589.2 1392.5V1578.4M1675.9 1392.5V1578.4M1130.4 1578H1683.8M1130.4 1510H1683.8M1130.4 1442H1683.8" stroke="#b0b0b0" stroke-opacity="0.66" stroke-width="1.6" fill="none"/>
<path d="M1155 1490.4L1172.4 1498.4L1189.7 1495.4L1207.1 1499.6L1224.4 1503L1241.8 1496.4L1259.1 1493.6L1276.5 1492L1293.8 1489.6L1311.2 1487.8L1328.5 1490.2L1345.9 1489.2L1363.2 1498L1380.6 1497.4L1398 1503.6L1415.3 1510L1432.7 1501.2L1450 1502L1467.4 1499.8L1484.7 1509.2L1502.1 1499.2L1519.4 1480L1536.8 1460.4L1554.1 1460L1571.5 1473.6L1588.8 1478L1606.2 1482L1623.6 1485.8L1640.9 1483.4L1658.3 1453" stroke="#142e45" stroke-width="3.4" fill="none" stroke-linejoin="round" stroke-linecap="square"/>
<path d="M1130.4 1392.5V1578.2H1683.8" stroke="#000" stroke-width="1.6" fill="none" stroke-linecap="square"/>
<path d="M1155.4 1578.4v5.8M1242.2 1578.4v5.8M1328.9 1578.4v5.8M1415.7 1578.4v5.8M1502.4 1578.4v5.8M1589.2 1578.4v5.8M1675.9 1578.4v5.8M1130.4 1578h-5.8M1130.4 1510h-5.8M1130.4 1442h-5.8" stroke="#000" stroke-width="1.6" fill="none"/>
<text x="1155.4" y="1602.3" text-anchor="middle">1990</text>
<text x="1242.2" y="1602.3" text-anchor="middle">1995</text>
<text x="1328.9" y="1602.3" text-anchor="middle">2000</text>
<text x="1415.7" y="1602.3" text-anchor="middle">2005</text>
<text x="1502.4" y="1602.3" text-anchor="middle">2010</text>
<text x="1589.2" y="1602.3" text-anchor="middle">2015</text>
<text x="1675.9" y="1602.3" text-anchor="middle">2020</text>
<text x="1118.5" y="1584.2" text-anchor="end">200</text>
<text x="1118.5" y="1516.2" text-anchor="end">400</text>
<text x="1118.5" y="1448.2" text-anchor="end">600</text>
<text x="1407.1" y="1383.1" text-anchor="middle" font-size="20">Yams</text>
<text transform="translate(1073.7 1485.5) rotate(-90)" text-anchor="middle">Unit WF (m<tspan font-size="70%" dy="-6.1">3</tspan><tspan dy="6.1"> t</tspan><tspan font-size="70%" dy="-6.1">−1</tspan><tspan dy="6.1"> yr</tspan><tspan font-size="70%" dy="-6.1">−1</tspan><tspan dy="6.1">)</tspan></text>
</g>
<text x="547.9" y="1626.5" text-anchor="middle">Unit WF (m<tspan font-size="70%" dy="-6.1">3</tspan><tspan dy="6.1"> t</tspan><tspan font-size="70%" dy="-6.1">−1</tspan><tspan dy="6.1"> yr</tspan><tspan font-size="70%" dy="-6.1">−1</tspan><tspan dy="6.1">)</tspan></text>
<text x="1407.1" y="1624" text-anchor="middle">Calendar year</text>
</svg>
</body></html>
